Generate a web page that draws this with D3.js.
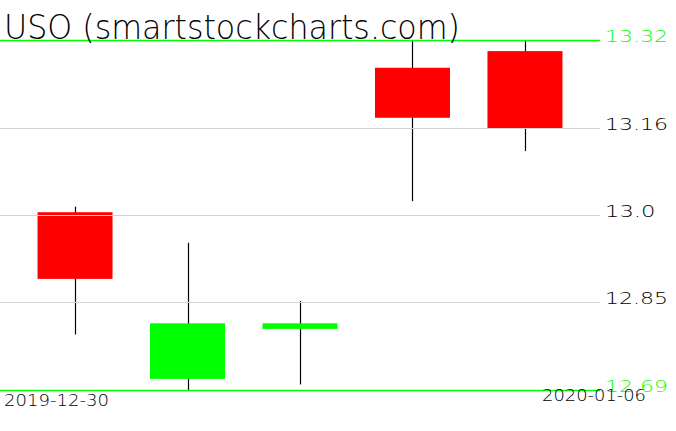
<!DOCTYPE html>
<html>
<head>
<meta charset="utf-8">
<script src="https://cdn.jsdelivr.net/npm/d3@7"></script>
<style>
  body { margin: 0; background: #fff; }
  svg { display: block; }
  text { font-family: 'DejaVu Sans', sans-serif; font-weight: 200; }
</style>
</head>
<body>
<svg id="chart" width="676" height="431"></svg>
<script>
// daily candles for USO
const dates  = ['2019-12-30', '2019-12-31', '2020-01-02', '2020-01-03', '2020-01-06'];
const opens  = [13.01, 12.71, 12.80, 13.27, 13.30];
const highs  = [13.02, 12.955, 12.85, 13.32, 13.32];
const lows   = [12.79, 12.69, 12.70, 13.03, 13.12];
const closes = [12.89, 12.81, 12.81, 13.18, 13.16];

// price levels on the right, top and bottom are the min / max
const levels = [13.32, 13.1625, 13.005, 12.8475, 12.69];
const levelLabels = ['13.32', '13.16', '13.0', '12.85', '12.69'];

const svg = d3.select('#chart');
const plotRight = 600;

const candles = dates.map((d, i) => ({
  date: d, open: opens[i], high: highs[i], low: lows[i], close: closes[i]
}));

const x = d3.scalePoint()
  .domain(dates)
  .range([0, plotRight])
  .padding(0.667);

const y = d3.scaleLinear()
  .domain([12.69, 13.32])
  .range([390, 40]);

const bodyW = 75;

// wicks first, bodies cover them
svg.append('g').selectAll('line')
  .data(candles)
  .enter().append('line')
    .attr('x1', d => Math.round(x(d.date)) + 0.5)
    .attr('x2', d => Math.round(x(d.date)) + 0.5)
    .attr('y1', d => y(d.high))
    .attr('y2', d => y(d.low))
    .attr('stroke', 'black')
    .attr('stroke-width', 1.2);

svg.append('g').selectAll('rect')
  .data(candles)
  .enter().append('rect')
    .attr('x', d => x(d.date) - bodyW / 2)
    .attr('y', d => y(Math.max(d.open, d.close)))
    .attr('width', bodyW)
    .attr('height', d => Math.max(1, y(Math.min(d.open, d.close)) - y(Math.max(d.open, d.close))))
    .attr('fill', d => d.close < d.open ? '#ff0000' : '#00ff00');

// horizontal levels
const grid = svg.append('g');
levels.forEach((v, i) => {
  let edge = (i === 0 || i === levels.length - 1);
  let yy = Math.round(y(v)) + 0.5;
  grid.append('line')
    .attr('x1', 0)
    .attr('x2', plotRight)
    .attr('y1', yy)
    .attr('y2', yy)
    .attr('stroke', edge ? '#00ff00' : '#d3d3d3')
    .attr('stroke-width', edge ? 1.5 : 1);
  grid.append('text')
    .attr('x', 605)
    .attr('y', yy + 1)
    .attr('font-size', 15.5)
    .attr('textLength', levelLabels[i].length * 12.6)
    .attr('lengthAdjust', 'spacingAndGlyphs')
    .attr('fill', edge ? '#00ff00' : 'black')
    .text(levelLabels[i]);
});

// title
svg.append('text')
  .attr('x', 4)
  .attr('y', 39)
  .attr('font-size', 33)
  .attr('textLength', 456)
  .attr('lengthAdjust', 'spacingAndGlyphs')
  .attr('fill', 'black')
  .text('USO (smartstockcharts.com)');

// first and last date
svg.append('text')
  .attr('x', 4)
  .attr('y', 406)
  .attr('font-size', 15)
  .attr('textLength', 105)
  .attr('lengthAdjust', 'spacingAndGlyphs')
  .text(dates[0]);

svg.append('text')
  .attr('x', 542)
  .attr('y', 401)
  .attr('font-size', 15)
  .attr('textLength', 104)
  .attr('lengthAdjust', 'spacingAndGlyphs')
  .text(dates[dates.length - 1]);
</script>
</body>
</html>
